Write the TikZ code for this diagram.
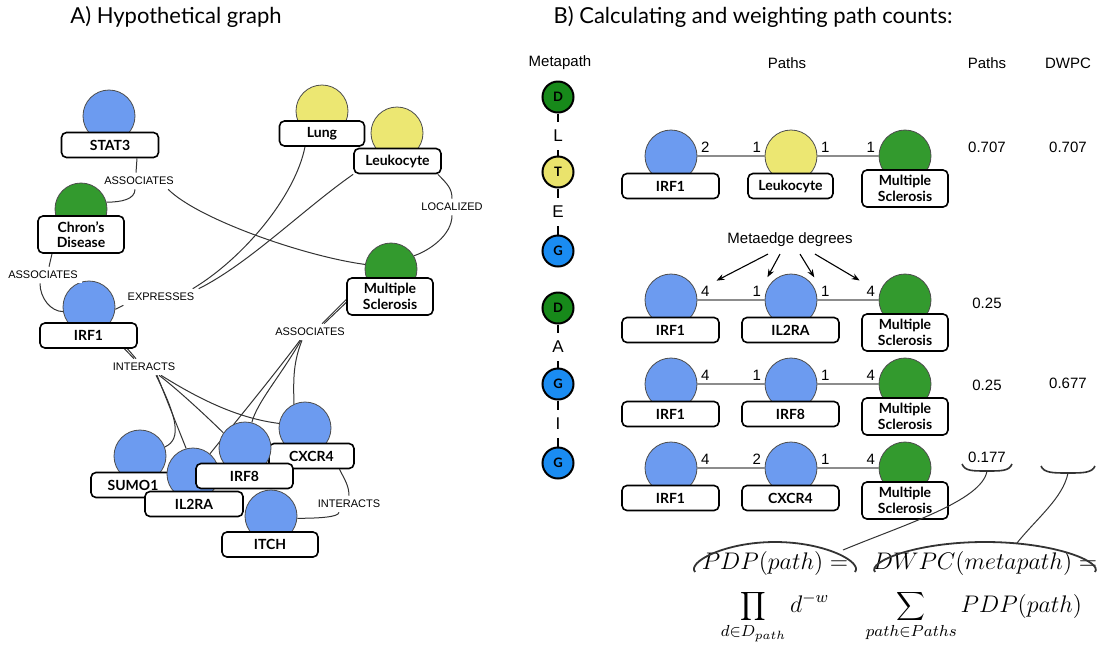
\documentclass[tikz,border=0pt]{standalone}
\usepackage[no-math]{fontspec}
\setmainfont{Lato}
\newfontfamily\helv{Liberation Sans}
\usetikzlibrary{arrows.meta,positioning,backgrounds,calc}
\definecolor{geneColor}{HTML}{6C9BF0}
\definecolor{disColor}{HTML}{339A2E}
\definecolor{tisColor}{HTML}{ECE772}
\definecolor{mdColor}{HTML}{17891A}
\definecolor{mtColor}{HTML}{EAE36C}
\definecolor{mgColor}{HTML}{1A8CF2}
\tikzset{
	ent/.style={circle, draw=black!70, line width=0.4pt, minimum size=26pt, inner sep=0pt},
	gene/.style={ent, fill=geneColor},
	dis/.style={ent, fill=disColor},
	tis/.style={ent, fill=tisColor},
	lbl/.style={draw, fill=white, rounded corners=2.5pt, line width=0.8pt, minimum width=48.5pt,
		minimum height=12.5pt, inner sep=1pt, align=center, font=\fontsize{7}{7.8}\selectfont\bfseries},
	lbltwo/.style={lbl, minimum width=43pt, minimum height=18.5pt},
	rel/.style={fill=white, inner sep=2pt, font=\helv\fontsize{5.5}{6}\selectfont},
	link/.style={draw=black!80, line width=0.5pt},
	mcirc/.style={circle, draw, line width=1pt, minimum size=15.5pt, inner sep=0pt, font=\fontsize{6.5}{7}\selectfont\bfseries},
	mlet/.style={fill=white, inner sep=0pt, minimum height=14pt, font=\helv\fontsize{8.5}{9}\selectfont},
	txt/.style={font=\helv\fontsize{7.5}{9}\selectfont},
	deg/.style={font=\helv\fontsize{7.5}{9}\selectfont, inner sep=1.5pt},
	pathedge/.style={draw=black!45, line width=0.6pt},
	degarrow/.style={draw, line width=0.55pt, -{Stealth[length=4pt,width=3pt]}},
	frm/.style={font=\fontsize{12}{14}\selectfont, inner sep=1pt}
}

\begin{document}
\begin{tikzpicture}[x=0.5pt,y=-0.5pt]
	\useasboundingbox (0,0) rectangle (1100,650);
	% titles
	\node[font=\fontsize{11}{13}\selectfont] (ta) at (176,17) {A) Hypothetical graph};
	\node[font=\fontsize{11}{13}\selectfont] (tb) at (753,17) {B) Calculating and weighting path counts:};
	
	% A) hypothetical graph
	\node[gene] (stat3c) at (109,116) {};
	\node[lbl] (stat3) at (110,145) {STAT3};
	\node[dis] (chronc) at (81,209) {};
	\node[lbltwo] (chron) at (81,234.5) {Chron’s\\Disease};
	\node[gene] (irf1c) at (89,307) {};
	\node[lbl] (irf1) at (88.5,335.5) {IRF1};
	\node[tis] (lungc) at (322,111) {};
	\node[lbl, minimum width=42.5pt] (lung) at (322,133.5) {Lung};
	\node[tis] (leukc) at (397,133) {};
	\node[lbl, minimum width=43.5pt] (leuk) at (397.5,161) {Leukocyte};
	\node[dis] (msc) at (391,269) {};
	\node[lbltwo] (ms) at (390,296.5) {Multiple\\Sclerosis};
	
	\node[gene] (sumo1c) at (140,456) {};
	\node[lbl, minimum width=42pt] (sumo1) at (133,485) {SUMO1};
	\node[gene] (il2rac) at (193,474) {};
	\node[lbl, minimum width=49pt] (il2ra) at (194,504) {IL2RA};
	\node[gene] (cxcr4c) at (305,428) {};
	\node[lbl, minimum width=42.5pt] (cxcr4) at (311.5,456) {CXCR4};
	\node[gene] (irf8c) at (245,448) {};
	\node[lbl] (irf8) at (244.5,476) {IRF8};
	\node[gene] (itchc) at (271,516) {};
	\node[lbl, minimum width=48pt] (itch) at (270,544.5) {ITCH};
	
	\node[rel] (a1) at (139,181) {ASSOCIATES};
	\node[rel] (a2) at (43,275) {ASSOCIATES};
	\node[rel] (ex) at (161,297) {EXPRESSES};
	\node[rel] (lo) at (452,207) {LOCALIZED};
	\node[rel] (a3) at (310,332) {ASSOCIATES};
	\node[rel] (in1) at (144,367) {INTERACTS};
	\node[rel] (in2) at (349,504) {INTERACTS};
	
	\begin{scope}[on background layer]
		\draw[link] ($(a1.north)+(-3,0)$) -- ($(stat3.south)+(27,0)$);
		\draw[link] (chronc.15) .. controls +(15,0) and +(0,10) .. ($(a1.south)+(-4,0)$);
		\draw[link] ($(a1.south east)+(-10,0)$) .. controls +(30,30) and +(-60,-8) .. (msc.170);
		\draw[link] ($(chron.south)+(-29,0)$) -- ($(a2.north)+(6,0)$);
		\draw[link] ($(a2.south)+(-3,0)$) .. controls +(0,15) and +(-12,0) .. (irf1c.190);
		\draw[link] (irf1c.-5) -- (ex.south west);
		\draw[link] ($(ex.north east)+(-6,0)$) .. controls +(50,-30) and +(-10,50) .. ($(lung.south)+(-17,0)$);
		\draw[link] (ex.north east) .. controls +(50,-25) and +(-50,35) .. (leuk.south west);
		\draw[link] ($(leuk.south east)+(-4,0)$) .. controls +(10,10) and +(0,-10) .. (lo.north);
		\draw[link] (lo.south) .. controls +(0,20) and +(15,-5) .. (msc.30);
		\draw[link] ($(ms.west)+(0,3)$) -- ($(a3.north)+(12,0)$);
		\draw[link] ($(ms.west)+(0,6)$) -- ($(a3.north)+(14,0)$);
		\draw[link] ($(a3.south)+(-10,0)$) .. controls +(-30,40) and +(20,-25) .. (il2rac.50);
		\draw[link] ($(a3.south)+(-9,0)$) .. controls +(-20,35) and +(5,-20) .. (irf8c.75);
		\draw[link] ($(a3.south)+(-8,0)$) .. controls +(-10,25) and +(0,-20) .. (cxcr4c.115);
		\draw[link] ($(irf1.south)+(36,0)$) -- ($(in1.north)+(-10,0)$);
		\draw[link] ($(irf1.south)+(39,0)$) -- ($(in1.north)+(-8,0)$);
		\draw[link] ($(in1.south)+(12,0)$) .. controls +(20,40) and +(18,-8) .. (sumo1c.20);
		\draw[link] ($(in1.south)+(13,0)$) -- (il2rac.105);
		\draw[link] ($(in1.south)+(15,0)$) .. controls +(20,15) and +(-10,-10) .. (irf8c.145);
		\draw[link] ($(in1.south)+(17,0)$) .. controls +(40,25) and +(-40,-5) .. (cxcr4c.170);
		\draw[link] ($(cxcr4.south)+(28,0)$) .. controls +(5,10) and +(0,-10) .. (in2.north);
		\draw[link] ($(in2.south)+(-10,0)$) .. controls +(0,5) and +(20,0) .. (itchc.-5);
	\end{scope}
	
	% B) metapath column
	\node[txt] (mph) at (560,63) {Metapath};
	\node[mcirc, fill=mdColor] (m1) at (558,97) {D};
	\node[mlet] (l1) at (558,136) {L};
	\node[mcirc, fill=mtColor] (m2) at (558,172) {T};
	\node[mlet] (l2) at (558,212) {E};
	\node[mcirc, fill=mgColor] (m3) at (558,251) {G};
	\node[mcirc, fill=mdColor] (m4) at (558,308) {D};
	\node[mlet] (l3) at (558,347) {A};
	\node[mcirc, fill=mgColor] (m5) at (558,384) {G};
	\node[mlet] (l4) at (558,424) {I};
	\node[mcirc, fill=mgColor] (m6) at (558,463) {G};
	\draw[line width=0.6pt] (m1) -- (l1) -- (m2) -- (l2) -- (m3);
	\draw[line width=0.6pt] (m4) -- (l3) -- (m5) -- (l4) -- (m6);
	
	% paths
	\node[txt] (pth) at (787,63) {Paths};
	
	\node[gene] (r1a) at (671,156) {};
	\node[tis] (r1b) at (791,156) {};
	\node[dis] (r1c) at (905,156) {};
	\node[lbl] (r1al) at (670.5,186) {IRF1};
	\node[lbl, minimum width=42.5pt] (r1bl) at (790.5,186) {Leukocyte};
	\node[lbltwo] (r1cl) at (905,188.5) {Multiple\\Sclerosis};
	\draw[pathedge] (r1a) -- node[deg,pos=0,above right] {2} node[deg,pos=1,above left] {1} (r1b);
	\draw[pathedge] (r1b) -- node[deg,pos=0,above right] {1} node[deg,pos=1,above left] {1} (r1c);
	
	\node[gene] (r2a) at (671,300) {};
	\node[gene] (r2b) at (791,300) {};
	\node[dis] (r2c) at (905,300) {};
	\node[lbl] (r2al) at (670.5,330) {IRF1};
	\node[lbl] (r2bl) at (790.5,330) {IL2RA};
	\node[lbltwo] (r2cl) at (905,332.5) {Multiple\\Sclerosis};
	\draw[pathedge] (r2a) -- node[deg,pos=0,above right] (n2a) {4} node[deg,pos=1,above left] (n2b) {1} (r2b);
	\draw[pathedge] (r2b) -- node[deg,pos=0,above right] (n2c) {1} node[deg,pos=1,above left] (n2d) {4} (r2c);
	
	\node[gene] (r3a) at (671,384) {};
	\node[gene] (r3b) at (791,384) {};
	\node[dis] (r3c) at (905,384) {};
	\node[lbl] (r3al) at (670.5,414) {IRF1};
	\node[lbl] (r3bl) at (790.5,414) {IRF8};
	\node[lbltwo] (r3cl) at (905,416.5) {Multiple\\Sclerosis};
	\draw[pathedge] (r3a) -- node[deg,pos=0,above right] {4} node[deg,pos=1,above left] {1} (r3b);
	\draw[pathedge] (r3b) -- node[deg,pos=0,above right] {1} node[deg,pos=1,above left] {4} (r3c);
	
	\node[gene] (r4a) at (671,468) {};
	\node[gene] (r4b) at (791,468) {};
	\node[dis] (r4c) at (905,468) {};
	\node[lbl] (r4al) at (670.5,498) {IRF1};
	\node[lbl] (r4bl) at (790.5,498) {CXCR4};
	\node[lbltwo] (r4cl) at (905,500.5) {Multiple\\Sclerosis};
	\draw[pathedge] (r4a) -- node[deg,pos=0,above right] {4} node[deg,pos=1,above left] {2} (r4b);
	\draw[pathedge] (r4b) -- node[deg,pos=0,above right] {1} node[deg,pos=1,above left] {4} (r4c);
	
	% metaedge degrees
	\node[txt] (mdeg) at (790,240) {Metaedge degrees};
	\draw[degarrow, shorten >=2pt] ($(mdeg.south)+(-22,0)$) -- (n2a.north east);
	\draw[degarrow, shorten >=3pt] ($(mdeg.south)+(-10,0)$) -- (n2b.north east);
	\draw[degarrow, shorten >=3pt] ($(mdeg.south)+(10,0)$) -- (n2c.north west);
	\draw[degarrow, shorten >=2pt] ($(mdeg.south)+(25,0)$) -- (n2d.north west);
	
	% values
	\node[txt] (ph) at (987,63) {Paths};
	\node[txt] (dh) at (1068,63) {DWPC};
	\node[txt] (v1) at (987,147) {0.707};
	\node[txt] (w1) at (1068,147) {0.707};
	\node[txt] (v2) at (987,303) {0.25};
	\node[txt] (v3) at (987,385) {0.25};
	\node[txt] (w3) at (1068,383) {0.677};
	\node[txt] (v4) at (987,457) {0.177};
	
	\coordinate (b1) at ($(v4)+(0,14)$);
	\coordinate (b2) at ($(dh |- v4)+(0,16)$);
	\draw[link, line width=0.8pt] ($(b1)+(-25,-7)$) .. controls +(3,7) and +(-15,0) .. (b1) .. controls +(15,0) and +(-3,7) .. ($(b1)+(25,-7)$);
	\draw[link, line width=0.8pt] ($(b2)+(-27,-7)$) .. controls +(3,7) and +(-15,0) .. (b2) .. controls +(15,0) and +(-3,7) .. ($(b2)+(27,-7)$);
	
	% formulas
	\node[frm] (pdp) at (775,563) {$PDP(path) =$};
	\node[frm] (dwpc) at (985,563) {$DWPC(metapath) =$};
	\node[frm, anchor=base] (prod) at (775,612) {$\displaystyle\prod_{d\in D_{path}} d^{-w}$};
	\node[frm, anchor=base] (sum) at (974,612) {$\displaystyle\sum_{path\in Paths} PDP(path)$};
	
	\draw[link, line width=0.9pt] ($(pdp)+(-80,9)$) .. controls +(-8,-10) and +(-50,0) .. ($(pdp)+(0,-21)$) .. controls +(50,0) and +(8,-10) .. ($(pdp)+(80,9)$);
	\draw[link, line width=0.9pt] ($(dwpc)+(-110,9)$) .. controls +(-8,-10) and +(-70,0) .. ($(dwpc)+(0,-21)$) .. controls +(70,0) and +(8,-10) .. ($(dwpc)+(110,9)$);
	\coordinate (pdptop) at ($(pdp)+(68,-13)$);
	\coordinate (dwpctop) at ($(dwpc)+(32,-20)$);
	\draw[link] (b1) .. controls +(-5,30) and +(60,-25) .. (pdptop);
	\draw[link] (b2) .. controls +(-5,25) and +(20,-25) .. (dwpctop);
\end{tikzpicture}
\end{document}
